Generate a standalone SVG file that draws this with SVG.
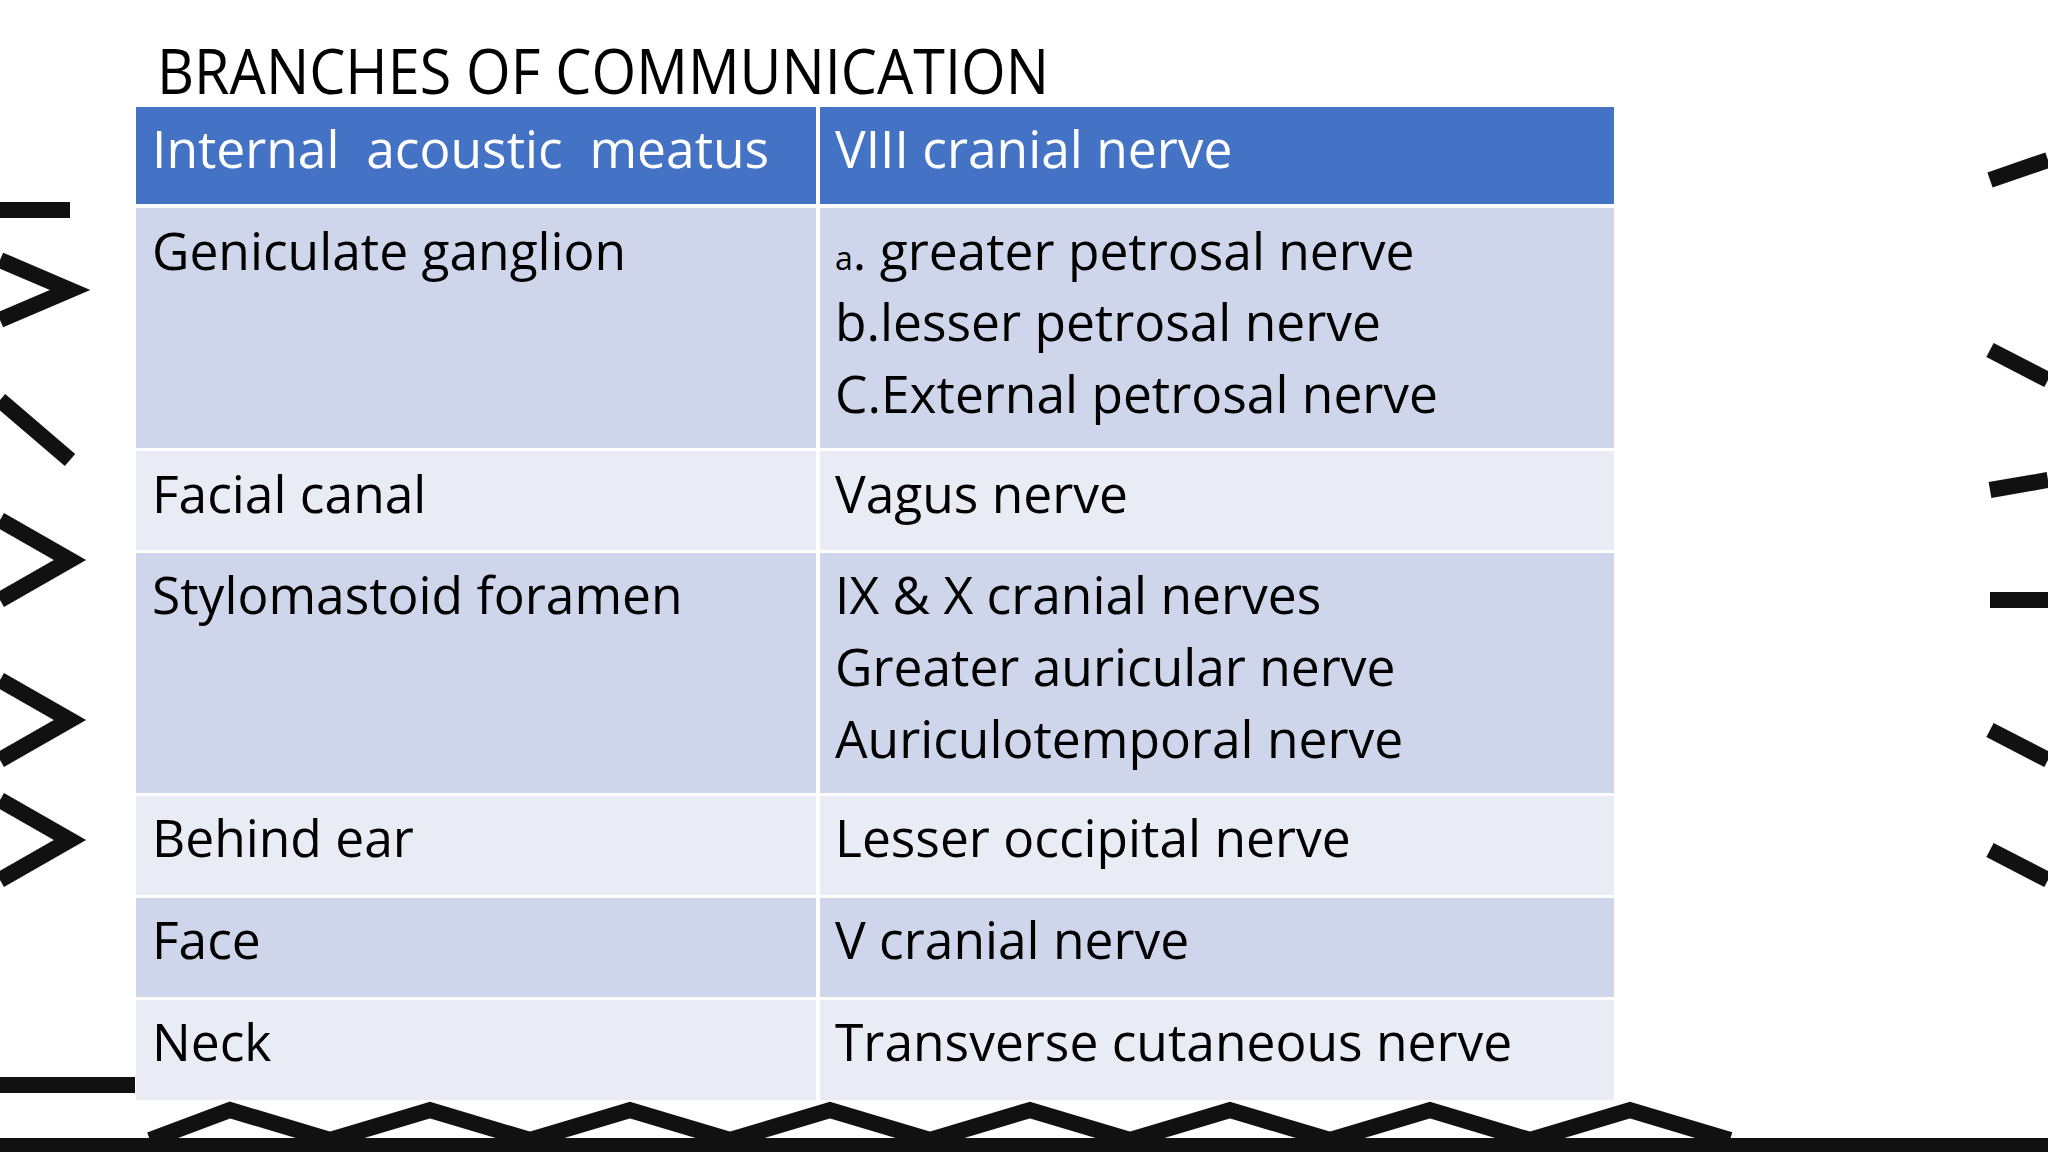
<svg xmlns="http://www.w3.org/2000/svg" width="2048" height="1152" viewBox="0 0 2048 1152">
<style>
.t{font-family:"Open Sans","Liberation Sans",sans-serif;font-size:51.5px;fill:#000}
.h{fill:#fff}
.d{fill:#CFD5EA}.l{fill:#E9EBF5}
.z{fill:none;stroke:#111;stroke-width:16}
</style>
<rect width="2048" height="1152" fill="#fff"/>
<g id="decor">
<polyline class="z" points="0,210 70,210"/>
<polyline class="z" points="0,260 70,290 0,320"/>
<polyline class="z" points="0,400 70,460"/>
<polyline class="z" points="0,520 70,560 0,600"/>
<polyline class="z" points="0,680 70,720 0,760"/>
<polyline class="z" points="0,800 70,840 0,880"/>
<polyline class="z" points="0,1085 135,1085"/>
<polyline class="z" points="1990,180 2048,160"/>
<polyline class="z" points="1990,350 2048,380"/>
<polyline class="z" points="1990,490 2048,480"/>
<polyline class="z" points="1990,600 2048,600"/>
<polyline class="z" points="1990,730 2048,760"/>
<polyline class="z" points="1990,850 2048,880"/>
<polyline class="z" points="150,1140 230,1110 330,1140 430,1110 530,1140 630,1110 730,1140 830,1110 930,1140 1030,1110 1130,1140 1230,1110 1330,1140 1430,1110 1530,1140 1630,1110 1730,1140"/>
<rect x="0" y="1138" width="2048" height="14" fill="#111"/>
</g>
<text x="157" y="94" style="font-family:'Open Sans','Liberation Sans',sans-serif;font-size:62px" textLength="892" lengthAdjust="spacingAndGlyphs">BRANCHES OF COMMUNICATION</text>
<g id="table">
<rect x="136" y="107" width="680" height="97" fill="#4472C4"/>
<rect x="820" y="107" width="794" height="97" fill="#4472C4"/>
<rect x="136" y="208" width="680" height="240" class="d"/><rect x="820" y="208" width="794" height="240" class="d"/>
<rect x="136" y="451" width="680" height="99" class="l"/><rect x="820" y="451" width="794" height="99" class="l"/>
<rect x="136" y="553" width="680" height="240" class="d"/><rect x="820" y="553" width="794" height="240" class="d"/>
<rect x="136" y="796" width="680" height="99" class="l"/><rect x="820" y="796" width="794" height="99" class="l"/>
<rect x="136" y="898" width="680" height="99" class="d"/><rect x="820" y="898" width="794" height="99" class="d"/>
<rect x="136" y="1000" width="680" height="100" class="l"/><rect x="820" y="1000" width="794" height="100" class="l"/>
</g>
<g id="cells">
<text class="t h" x="152" y="168" xml:space="preserve">Internal  acoustic  meatus</text>
<text class="t h" x="835" y="168">VIII cranial nerve</text>
<text class="t" x="152" y="270">Geniculate ganglion</text>
<text class="t" x="835" y="270"><tspan font-size="32">a</tspan>. greater petrosal nerve</text>
<text class="t" x="835" y="341">b.lesser petrosal nerve</text>
<text class="t" x="835" y="413">C.External petrosal nerve</text>
<text class="t" x="152" y="513">Facial canal</text>
<text class="t" x="835" y="513">Vagus nerve</text>
<text class="t" x="152" y="614">Stylomastoid foramen</text>
<text class="t" x="835" y="614">IX &amp; X cranial nerves</text>
<text class="t" x="835" y="686">Greater auricular nerve</text>
<text class="t" x="835" y="758">Auriculotemporal nerve</text>
<text class="t" x="152" y="857">Behind ear</text>
<text class="t" x="835" y="857">Lesser occipital nerve</text>
<text class="t" x="152" y="959">Face</text>
<text class="t" x="835" y="959">V cranial nerve</text>
<text class="t" x="152" y="1061">Neck</text>
<text class="t" x="835" y="1061">Transverse cutaneous nerve</text>
</g>
</svg>
